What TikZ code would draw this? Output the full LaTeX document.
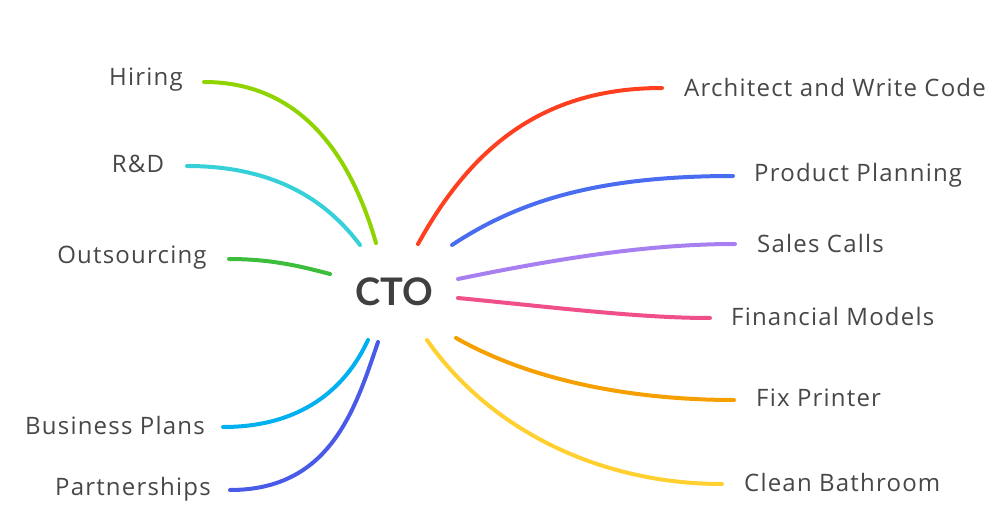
\documentclass[tikz,border=0pt]{standalone}
\usepackage{fontspec}
\setmainfont[LetterSpace=5]{Open Sans}
\newfontfamily\ctofont{Lato}
\begin{document}
\begin{tikzpicture}[x=1pt,y=-1pt,
 lbl/.style={font=\fontsize{24}{28}\selectfont,text=black!72,inner sep=0pt},
 br/.style={line width=4pt,line cap=round}]
\useasboundingbox (0,0) rectangle (989,522);
\node[font=\ctofont\bfseries\fontsize{38}{42}\selectfont,text=black!75] (cto) at (394,292) {CTO};
\node[lbl] (hir) at (146,80) {Hiring};
\node[lbl] (rd) at (138,164) {R\&D};
\node[lbl] (out) at (132,258) {Outsourcing};
\node[lbl] (bus) at (115,425) {Business Plans};
\node[lbl] (par) at (133,489) {Partnerships};
\node[lbl,anchor=west] (arc) at (684,87) {Architect and Write Code};
\node[lbl,anchor=west] (pro) at (754,175) {Product Planning};
\node[lbl,anchor=west] (sal) at (757,243) {Sales Calls};
\node[lbl,anchor=west] (fin) at (731,316) {Financial Models};
\node[lbl,anchor=west] (fix) at (756,398) {Fix Printer};
\node[lbl,anchor=west] (cle) at (744,482) {Clean Bathroom};
\coordinate (h1) at (204,82); \coordinate (h2) at (376,243);
\coordinate (r1) at (187,166); \coordinate (r2) at (360,245);
\coordinate (o1) at (229,259); \coordinate (o2) at (330,274);
\coordinate (b1) at (223,427); \coordinate (b2) at (368,340);
\coordinate (p1) at (230,490); \coordinate (p2) at (378,342);
\coordinate (a1) at (418,244); \coordinate (a2) at (662,88);
\coordinate (q1) at (452,245); \coordinate (q2) at (733,176);
\coordinate (s1) at (458,279); \coordinate (s2) at (735,244);
\coordinate (f1) at (458,298); \coordinate (f2) at (710,318);
\coordinate (x1) at (456,338); \coordinate (x2) at (734,400);
\coordinate (c1) at (427,340); \coordinate (c2) at (722,484);
\draw[br,color={rgb,255:red,143;green,212;blue,0}] (h1) .. controls (310,82) and (355,170) .. (h2);
\draw[br,color={rgb,255:red,53;green,208;blue,216}] (r1) .. controls (280,166) and (330,205) .. (r2);
\draw[br,color={rgb,255:red,60;green,190;blue,60}] (o1) .. controls (270,259) and (300,266) .. (o2);
\draw[br,color={rgb,255:red,0;green,176;blue,240}] (b1) .. controls (300,427) and (345,390) .. (b2);
\draw[br,color={rgb,255:red,74;green,90;blue,232}] (p1) .. controls (330,490) and (355,410) .. (p2);
\draw[br,color={rgb,255:red,255;green,64;blue,32}] (a1) .. controls (470,150) and (540,88) .. (a2);
\draw[br,color={rgb,255:red,74;green,108;blue,240}] (q1) .. controls (520,200) and (600,176) .. (q2);
\draw[br,color={rgb,255:red,168;green,127;blue,240}] (s1) .. controls (560,258) and (650,244) .. (s2);
\draw[br,color={rgb,255:red,240;green,80;blue,138}] (f1) .. controls (560,308) and (640,318) .. (f2);
\draw[br,color={rgb,255:red,245;green,160;blue,0}] (x1) .. controls (530,380) and (630,400) .. (x2);
\draw[br,color={rgb,255:red,255;green,208;blue,48}] (c1) .. controls (490,430) and (600,484) .. (c2);
\end{tikzpicture}
\end{document}
